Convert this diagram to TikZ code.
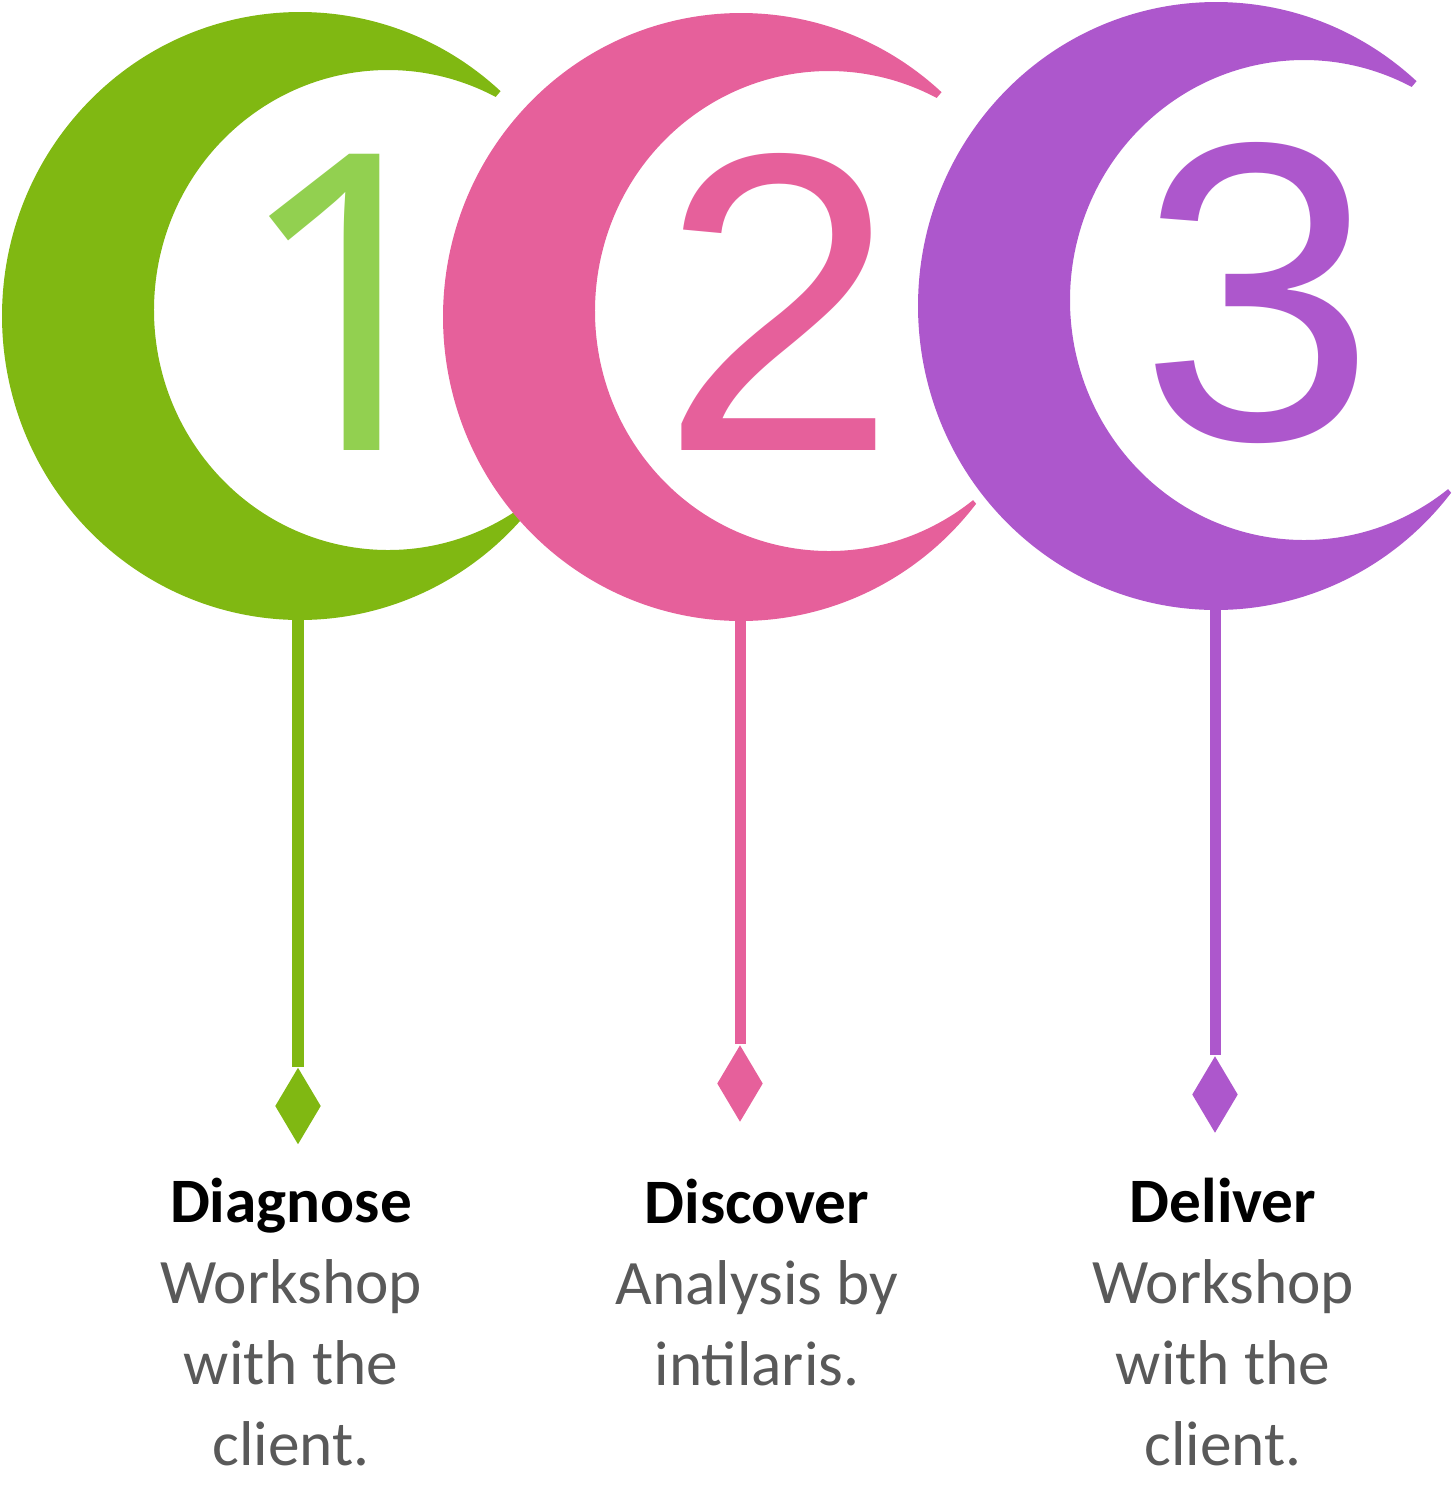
\documentclass[tikz,border=0pt]{standalone}
\usepackage{fontspec}
\setmainfont{Carlito}
\newfontfamily\digitfont{Liberation Sans}
\newfontfamily\onefont{Noto Sans}
\usetikzlibrary{calc,shapes.geometric}
\definecolor{moongreen}{RGB}{128,184,18}
\definecolor{numgreen}{RGB}{146,208,80}
\definecolor{moonpink}{RGB}{230,96,155}
\definecolor{moonpurple}{RGB}{173,87,204}
\definecolor{bodygrey}{RGB}{89,89,89}

\begin{document}
\begin{tikzpicture}[x=0.01cm,y=-0.01cm]
\tikzset{
    bignum/.style={%
        anchor=base, inner sep=0pt,
        font=\fontsize{121}{121}\digitfont
        },
    stem/.style={%
        line width=0.11cm
        },
    gem/.style={%
        diamond, inner sep=0pt,
        minimum width=0.46cm,
        minimum height=0.77cm
        },
    blurb/.style={%
        anchor=base, inner sep=0pt, align=center,
        text=bodygrey,
        font=\fontsize{18}{23}\selectfont
        },
}
\useasboundingbox (0,0) rectangle (1452,1496);
%%%MOONS
\coordinate (c1) at (300,316);
\coordinate (c2) at (741,317);
\coordinate (c3) at (1216,306);
\fill[moongreen] ($(c1)+(-47.7:298 and 304)$) arc[start angle=-47.7, end angle=-322.1, x radius=298, y radius=304]
    -- ($(c1)+(88,-6)+(52:234 and 240)$) arc[start angle=52, end angle=297.4, x radius=234, y radius=240] -- cycle;
\fill[moonpink] ($(c2)+(-47.7:298 and 304)$) arc[start angle=-47.7, end angle=-322.1, x radius=298, y radius=304]
    -- ($(c2)+(88,-6)+(52:234 and 240)$) arc[start angle=52, end angle=297.4, x radius=234, y radius=240] -- cycle;
\fill[moonpurple] ($(c3)+(-47.7:298 and 304)$) arc[start angle=-47.7, end angle=-322.1, x radius=298, y radius=304]
    -- ($(c3)+(88,-6)+(52:234 and 240)$) arc[start angle=52, end angle=297.4, x radius=234, y radius=240] -- cycle;
%%%NUMBERS
\node[bignum, text=numgreen, font=\fontsize{118}{118}\onefont] (num1) at (351,450) {1};
\node[bignum, text=moonpink] (num2) at (779,450) {2};
\node[bignum, text=moonpurple] (num3) at (1258,439) {3};
%%%STEMS
\coordinate (b1) at (298,600);
\coordinate (b2) at (740,600);
\coordinate (b3) at (1215,590);
\node[gem, fill=moongreen] (dia1) at (298,1106) {};
\node[gem, fill=moonpink] (dia2) at (740,1083.5) {};
\node[gem, fill=moonpurple] (dia3) at (1215,1094.5) {};
\draw[stem, moongreen] (b1) -- (dia1.north);
\draw[stem, moonpink] (b2) -- (dia2.north);
\draw[stem, moonpurple] (b3) -- (dia3.north);
%%%TEXTS (base = last line)
\node[blurb] (txt1) at (291,1465) {\textcolor{black}{\textbf{Diagnose}}\\Workshop\\with the\\client.};
\node[blurb] (txt2) at (757,1385) {\textcolor{black}{\textbf{Discover}}\\Analysis by\\intilaris.};
\node[blurb] (txt3) at (1223,1465) {\textcolor{black}{\textbf{Deliver}}\\Workshop\\with the\\client.};
\end{tikzpicture}
\end{document}
